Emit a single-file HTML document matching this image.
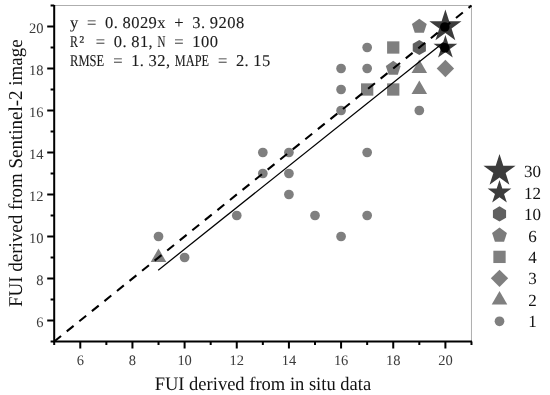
<!DOCTYPE html>
<html lang="en"><head><meta charset="utf-8"><title>FUI scatter plot</title>
<style>html,body{margin:0;padding:0;background:#fff}svg{display:block}text{font-family:"Liberation Serif","Noto Serif CJK SC",serif;text-rendering:geometricPrecision}</style></head><body>
<svg width="550" height="395" viewBox="0 0 550 395">
<rect width="550" height="395" fill="#fff"/>
<path d="M54.2 5.5 H471.48 V341.5" fill="none" stroke="#999" stroke-width="0.8"/>
<g>
<circle cx="158.52" cy="236.5" r="4.85" fill="#7f7f7f"/>
<circle cx="184.6" cy="257.5" r="4.85" fill="#7f7f7f"/>
<polygon points="158.52,248.5 166.31,262 150.73,262" fill="#7f7f7f"/>
<circle cx="236.76" cy="215.5" r="4.85" fill="#7f7f7f"/>
<circle cx="262.84" cy="152.5" r="4.85" fill="#7f7f7f"/>
<circle cx="288.92" cy="152.5" r="4.85" fill="#7f7f7f"/>
<circle cx="262.84" cy="173.5" r="4.85" fill="#7f7f7f"/>
<circle cx="288.92" cy="173.5" r="4.85" fill="#7f7f7f"/>
<circle cx="288.92" cy="194.5" r="4.85" fill="#7f7f7f"/>
<circle cx="315" cy="215.5" r="4.85" fill="#7f7f7f"/>
<circle cx="367.16" cy="215.5" r="4.85" fill="#7f7f7f"/>
<circle cx="341.08" cy="236.5" r="4.85" fill="#7f7f7f"/>
<circle cx="367.16" cy="152.5" r="4.85" fill="#7f7f7f"/>
<circle cx="341.08" cy="110.5" r="4.85" fill="#7f7f7f"/>
<circle cx="419.32" cy="110.5" r="4.85" fill="#7f7f7f"/>
<circle cx="341.08" cy="89.5" r="4.85" fill="#7f7f7f"/>
<rect x="361.01" y="83.35" width="12.3" height="12.3" fill="#7f7f7f"/>
<rect x="387.09" y="83.35" width="12.3" height="12.3" fill="#7f7f7f"/>
<polygon points="419.32,80.5 427.11,94 411.53,94" fill="#7f7f7f"/>
<circle cx="341.08" cy="68.5" r="4.85" fill="#7f7f7f"/>
<circle cx="367.16" cy="68.5" r="4.85" fill="#7f7f7f"/>
<polygon points="393.24,60.7 400.66,66.09 397.82,74.81 388.66,74.81 385.82,66.09" fill="#7b7b7b"/>
<polygon points="419.32,59.5 427.11,73 411.53,73" fill="#7f7f7f"/>
<polygon points="445.4,59.8 454.1,68.5 445.4,77.2 436.7,68.5" fill="#7f7f7f"/>
<circle cx="367.16" cy="47.5" r="4.85" fill="#7f7f7f"/>
<rect x="387.09" y="41.35" width="12.3" height="12.3" fill="#7f7f7f"/>
<polygon points="419.32,39.9 425.9,43.7 425.9,51.3 419.32,55.1 412.74,51.3 412.74,43.7" fill="#606060"/>
<polygon points="419.32,18.7 426.74,24.09 423.9,32.81 414.74,32.81 411.9,24.09" fill="#7b7b7b"/>
<polygon points="445.4,9.6 449.19,21.28 461.47,21.28 451.54,28.49 455.33,40.17 445.4,32.96 435.47,40.17 439.26,28.49 429.33,21.28 441.61,21.28" fill="#3c3c3c"/>
<polygon points="445.4,35 448.21,43.64 457.29,43.64 449.94,48.98 452.75,57.61 445.4,52.27 438.05,57.61 440.86,48.98 433.51,43.64 442.59,43.64" fill="#3c3c3c"/>
<circle cx="444.8" cy="27" r="4.8" fill="#000"/>
<circle cx="444.8" cy="47.8" r="4.8" fill="#000"/>
</g>
<line x1="54.2" y1="341.5" x2="471.48" y2="5.5" stroke="#000" stroke-width="2.1" stroke-dasharray="8.8 7.32"/>
<line x1="158.2" y1="270.2" x2="443.5" y2="42.4" stroke="#000" stroke-width="1.25"/>
<g stroke="#000" stroke-width="2" fill="none">
<path d="M54.2 5 V341.5 H471.98"/>
<path d="M54.2 341.5v3.6M54.2 341.5h-3.6M80.28 341.5v7M54.2 320.5h-7M106.36 341.5v3.6M54.2 299.5h-3.6M132.44 341.5v7M54.2 278.5h-7M158.52 341.5v3.6M54.2 257.5h-3.6M184.6 341.5v7M54.2 236.5h-7M210.68 341.5v3.6M54.2 215.5h-3.6M236.76 341.5v7M54.2 194.5h-7M262.84 341.5v3.6M54.2 173.5h-3.6M288.92 341.5v7M54.2 152.5h-7M315 341.5v3.6M54.2 131.5h-3.6M341.08 341.5v7M54.2 110.5h-7M367.16 341.5v3.6M54.2 89.5h-3.6M393.24 341.5v7M54.2 68.5h-7M419.32 341.5v3.6M54.2 47.5h-3.6M445.4 341.5v7M54.2 26.5h-7M471.48 341.5v3.6M54.2 5.5h-3.6"/>
</g>
<g font-size="14.5" fill="#3a3a3a">
<text x="76.68" y="365.4">6</text>
<text x="36.2" y="326.6">6</text>
<text x="128.84" y="365.4">8</text>
<text x="36.2" y="284.6">8</text>
<text x="177.4 184.6" y="365.4">10</text>
<text x="29 36.2" y="242.6">10</text>
<text x="229.56 236.76" y="365.4">12</text>
<text x="29 36.2" y="200.6">12</text>
<text x="281.72 288.92" y="365.4">14</text>
<text x="29 36.2" y="158.6">14</text>
<text x="333.88 341.08" y="365.4">16</text>
<text x="29 36.2" y="116.6">16</text>
<text x="386.04 393.24" y="365.4">18</text>
<text x="29 36.2" y="74.6">18</text>
<text x="438.2 445.4" y="365.4">20</text>
<text x="29 36.2" y="32.6">20</text>
</g>
<text x="262.9" y="389.5" font-size="19" text-anchor="middle" textLength="216.5" lengthAdjust="spacingAndGlyphs" fill="#111">FUI derived from in situ data</text>
<text transform="translate(21.7 173.2) rotate(-90)" font-size="19.5" text-anchor="middle" textLength="267.6" lengthAdjust="spacingAndGlyphs" fill="#111">FUI derived from Sentinel-2 image</text>
<text y="27.9" font-size="16.5" fill="#1c1c1c" stroke="#1c1c1c" stroke-width="0.12" style="white-space:pre"><tspan x="70.04 80.83 86.97 98.29 104.96 113.65 122.42 131.15 139.88 148.61 157.34 168.13 174.27 185.59 192.26 200.95 209.72 218.45 227.18 235.91">y = 0.8029x + 3.9208</tspan></text>
<text y="46.9" font-size="16.5" fill="#1c1c1c" stroke="#1c1c1c" stroke-width="0.12" style="white-space:pre"><tspan x="70.1" textLength="7.93" lengthAdjust="spacingAndGlyphs">R</tspan><tspan x="79.33 89.56 95.7 107.02 113.69 122.38 131.15 139.88 148.57">² = 0.81,</tspan><tspan x="157.4" textLength="7.93" lengthAdjust="spacingAndGlyphs">N</tspan><tspan x="168.13 174.27 185.59 192.26 200.99 209.72"> = 100</tspan></text>
<text y="66.1" font-size="16.5" fill="#1c1c1c" stroke="#1c1c1c" stroke-width="0.12" style="white-space:pre"><tspan x="70.1" textLength="34.12" lengthAdjust="spacingAndGlyphs">RMSE</tspan><tspan x="107.02 113.16 124.48 131.15 139.84 148.61 157.34 166.03"> = 1.32,</tspan><tspan x="174.86" textLength="34.12" lengthAdjust="spacingAndGlyphs">MAPE</tspan><tspan x="211.78 217.92 229.24 235.91 244.6 253.37 262.1"> = 2.15</tspan></text>
<g>
<polygon points="499.5,154.1 503.29,165.78 515.57,165.78 505.64,172.99 509.43,184.67 499.5,177.46 489.57,184.67 493.36,172.99 483.43,165.78 495.71,165.78" fill="#3c3c3c"/>
<polygon points="499.5,179.97 502.31,188.61 511.39,188.61 504.04,193.95 506.85,202.58 499.5,197.25 492.15,202.58 494.96,193.95 487.61,188.61 496.69,188.61" fill="#3c3c3c"/>
<polygon points="499.5,206.34 506.08,210.14 506.08,217.74 499.5,221.54 492.92,217.74 492.92,210.14" fill="#606060"/>
<polygon points="499.5,227.61 506.92,233 504.08,241.72 494.92,241.72 492.08,233" fill="#7b7b7b"/>
<rect x="493.35" y="250.73" width="12.3" height="12.3" fill="#7f7f7f"/>
<polygon points="499.5,269.65 508.2,278.35 499.5,287.05 490.8,278.35" fill="#7f7f7f"/>
<polygon points="499.5,291.12 507.29,304.62 491.71,304.62" fill="#7f7f7f"/>
<circle cx="499.5" cy="321.29" r="4.85" fill="#7f7f7f"/>
</g>
<g font-size="17" fill="#111" text-anchor="middle">
<text x="532.6" y="177.1">30</text>
<text x="532.6" y="198.57">12</text>
<text x="532.6" y="220.04">10</text>
<text x="532.6" y="241.51">6</text>
<text x="532.6" y="262.98">4</text>
<text x="532.6" y="284.45">3</text>
<text x="532.6" y="305.92">2</text>
<text x="532.6" y="327.39">1</text>
</g>
</svg></body></html>
